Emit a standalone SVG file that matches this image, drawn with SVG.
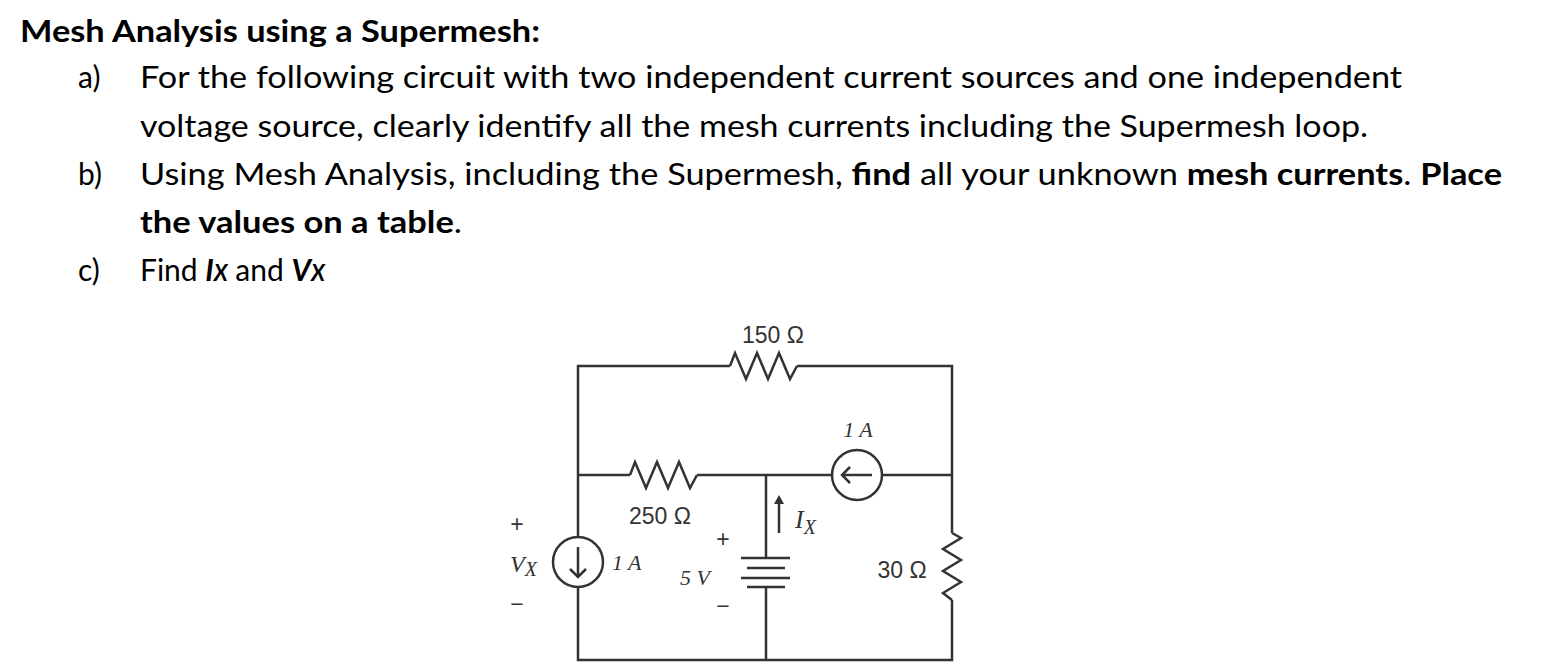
<svg xmlns="http://www.w3.org/2000/svg" width="1547" height="667" viewBox="0 0 1547 667">
<style>
.t{font-family:Lato,"Open Sans",sans-serif;font-size:30px;fill:#000}
.b{font-weight:bold}
.w{fill:none;stroke:#333;stroke-width:2.5}
.l{font-family:"Liberation Sans",Arial,sans-serif;font-size:23px;fill:#333}
.i{font-family:"Liberation Serif","Times New Roman",serif;font-style:italic;fill:#333}
</style>
<rect width="1547" height="667" fill="#fff"/>
<g id="text">
<text class="t b" x="20" y="42" textLength="520" lengthAdjust="spacingAndGlyphs">Mesh Analysis using a Supermesh:</text>
<text class="t" x="78" y="88">a)</text>
<text class="t" x="140" y="88" textLength="1262" lengthAdjust="spacingAndGlyphs">For the following circuit with two independent current sources and one independent</text>
<text class="t" x="140" y="137" textLength="1228" lengthAdjust="spacingAndGlyphs">voltage source, clearly identify all the mesh currents including the Supermesh loop.</text>
<text class="t" x="78" y="185">b)</text>
<text class="t" x="140" y="185" textLength="1362" lengthAdjust="spacingAndGlyphs">Using Mesh Analysis, including the Supermesh, <tspan class="b">find</tspan> all your unknown <tspan class="b">mesh currents</tspan>.  <tspan class="b">Place</tspan></text>
<text class="t" x="140" y="233" textLength="322" lengthAdjust="spacingAndGlyphs"><tspan class="b">the values on a table</tspan>.</text>
<text class="t" x="78" y="281">c)</text>
<text class="t" x="140" y="281">Find <tspan class="b" font-style="italic">I</tspan><tspan class="b" font-size="22" font-style="italic">X</tspan> and <tspan class="b" font-style="italic">V</tspan><tspan class="b" font-size="22" font-style="italic">X</tspan></text>
</g>
<g id="connectors">
<path class="w" d="M578,537 V475 V366 H730 M797,366 H952 V533 M952,600 V660 H578 V587"/>
<path class="w" d="M578,475 H630 M697,475 H832 M882,475 H952"/>
<path class="w" d="M766,475 V558 M766,587 V660"/>
</g>
<g id="r150"><path class="w" d="M730,366 L735,353 L746,379 L757,353 L768,379 L779,353 L790,379 L797,366"/><text class="l" x="773" y="343" text-anchor="middle">150 Ω</text></g>
<g id="r250"><path class="w" d="M630,475 L635,462 L646,488 L657,462 L668,488 L679,462 L690,488 L697,475"/><text class="l" x="660" y="524" text-anchor="middle">250 Ω</text></g>
<g id="r30"><path class="w" d="M952,533 L961,538 L943,549 L961,560 L943,571 L961,582 L943,593 L952,600"/><text class="l" x="902" y="578" text-anchor="middle">30 Ω</text></g>
<g id="is1"><circle class="w" cx="857" cy="475" r="25"/><path class="w" d="M872,475 H842 M850,467 L842,475 L850,483"/><text class="i" x="858" y="437" font-size="22" text-anchor="middle">1 A</text></g>
<g id="is2"><circle class="w" cx="578" cy="562" r="25"/><path class="w" d="M578,547 V577 M570,569 L578,577 L586,569"/><text class="i" x="612" y="570" font-size="22">1 A</text>
<text class="l" x="517" y="532" text-anchor="middle" font-size="28">+</text><text class="i" x="510" y="572" font-size="24">V<tspan font-size="20" dy="4">X</tspan></text><text class="l" x="517" y="612" text-anchor="middle" font-size="28">−</text></g>
<g id="bat"><path class="w" d="M741,558 H790 M747,568 H785 M741,578 H790 M747,587 H785"/>
<text class="l" x="723" y="547" text-anchor="middle" font-size="26">+</text><text class="l" x="723" y="614" text-anchor="middle" font-size="26">−</text><text class="i" x="680" y="585" font-size="22">5 V</text></g>
<g id="ix"><path class="w" d="M779,533 V500"/><path d="M779,495 L774,504 H784 Z" fill="#333"/><text class="i" x="795" y="528" font-size="26">I<tspan font-size="20" dy="6">X</tspan></text></g>
</svg>
